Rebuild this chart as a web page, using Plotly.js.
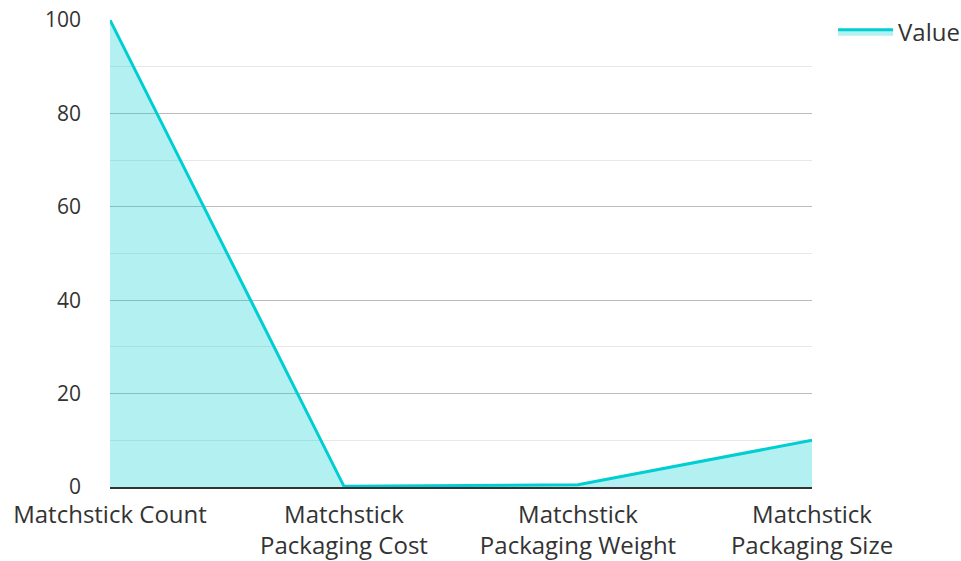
<!DOCTYPE html>
<html>
<head>
<meta charset="utf-8">
<script src="https://cdn.plot.ly/plotly-3.0.1.min.js"></script>
<style>html,body{margin:0;padding:0;background:#fff;}#chart{width:961px;height:561px;}</style>
</head>
<body>
<div id="chart"></div>
<script>
const categories = ["Matchstick Count", "Matchstick<br>Packaging Cost", "Matchstick<br>Packaging Weight", "Matchstick<br>Packaging Size"];
const values = [100, 0.15, 0.5, 10];
const seriesName = "Value";
const yTicks = [0, 20, 40, 60, 80, 100];

const trace = {
  x: categories,
  y: values,
  name: seriesName,
  type: "scatter",
  mode: "lines",
  fill: "tozeroy",
  fillcolor: "rgba(0,206,209,0.3)",
  line: {color: "#00CED1", width: 3}
};

const layout = {
  width: 961, height: 561,
  margin: {l: 110, r: 149, t: 20, b: 74, autoexpand: false},
  paper_bgcolor: "#fff", plot_bgcolor: "#fff",
  font: {family: "Open Sans, Noto Sans, sans-serif", size: 22, color: "#333"},
  showlegend: true,
  legend: {x: 1.03, y: 1.022, xanchor: "left", yanchor: "top", itemwidth: 55, font: {size: 24, color: "#333"}, bgcolor: "rgba(0,0,0,0)"},
  xaxis: {
    type: "category", range: [0, 3], automargin: false,
    showgrid: false, showline: true, linecolor: "#333", linewidth: 2,
    ticks: "", ticklabelstandoff: 5, tickfont: {size: 24, color: "#333"}, zeroline: false
  },
  yaxis: {
    range: [0, 100], automargin: false,
    tickvals: yTicks, ticktext: yTicks.map(String),
    showgrid: true, gridcolor: "#bbbbbb", gridwidth: 1,
    minor: {dtick: 10, tick0: 0, showgrid: true, gridcolor: "#e8e8e8", gridwidth: 1},
    zeroline: false, showline: false, ticks: "", ticklabelstandoff: 28,
    tickfont: {size: 21, color: "#333"}
  }
};

Plotly.newPlot("chart", [trace], layout, {displayModeBar: false, staticPlot: true});
</script>
</body>
</html>
